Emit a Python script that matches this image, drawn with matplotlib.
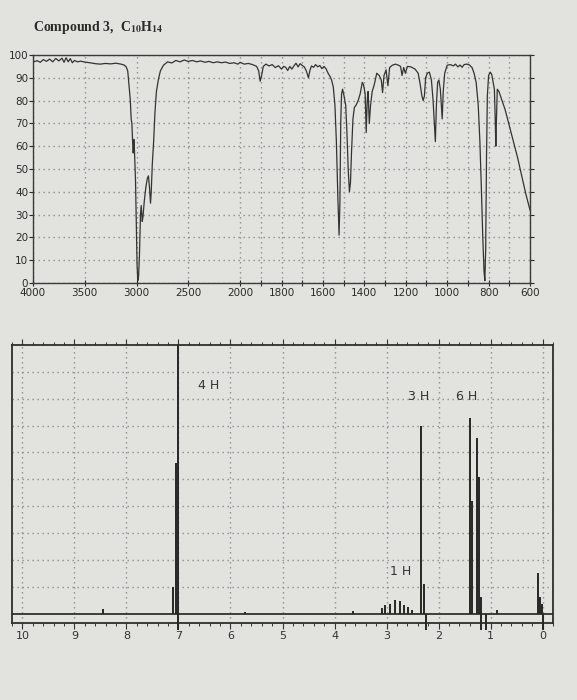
import numpy as np
import matplotlib
matplotlib.use("Agg")
import matplotlib.pyplot as plt
from matplotlib.ticker import FixedLocator, NullFormatter, FixedFormatter

# ---------------- IR data (wavenumber cm-1, %T) ----------------
ir_wavenumber = [4000, 3960, 3930, 3900, 3870, 3840, 3810, 3780, 3750, 3720, 3700, 3680,
                 3660, 3640, 3620, 3600, 3570, 3540, 3500, 3450, 3400, 3350, 3300, 3250,
                 3200, 3150, 3120, 3100, 3085, 3075, 3068, 3060, 3052, 3045, 3038, 3032,
                 3026, 3020, 3010, 3002, 2995, 2988, 2980, 2972, 2962, 2955, 2945, 2938,
                 2925, 2910, 2895, 2885, 2875, 2865, 2858, 2848, 2835, 2822, 2808, 2790,
                 2770, 2740, 2700, 2660, 2620, 2580, 2540, 2500, 2460, 2420, 2380, 2340,
                 2300, 2260, 2220, 2180, 2140, 2100, 2060, 2020, 2000, 1980, 1960, 1940,
                 1920, 1910, 1903, 1896, 1888, 1875, 1860, 1845, 1830, 1815, 1800, 1790,
                 1780, 1770, 1760, 1750, 1740, 1730, 1720, 1710, 1700, 1690, 1680, 1670,
                 1662, 1655, 1645, 1635, 1625, 1615, 1605, 1595, 1585, 1575, 1565, 1558,
                 1550, 1542, 1535, 1528, 1522, 1518, 1514, 1510, 1505, 1498, 1490, 1484,
                 1478, 1472, 1467, 1462, 1455, 1448, 1440, 1430, 1420, 1410, 1404, 1396,
                 1391, 1386, 1382, 1376, 1370, 1362, 1352, 1340, 1328, 1318, 1312, 1305,
                 1295, 1286, 1278, 1265, 1250, 1235, 1225, 1218, 1210, 1202, 1192, 1175,
                 1155, 1140, 1130, 1122, 1116, 1110, 1104, 1096, 1086, 1076, 1068, 1062,
                 1057, 1052, 1046, 1040, 1033, 1028, 1024, 1019, 1012, 1000, 985, 970,
                 960, 948, 938, 928, 918, 905, 892, 880, 870, 860, 850, 842, 835, 828,
                 822, 818, 814, 810, 806, 800, 792, 785, 778, 772, 768, 765, 762, 758,
                 750, 735, 720, 700, 680, 660, 640, 620, 600]
ir_transmittance = [97, 97.5, 96.8, 98, 97.2, 98.2, 97, 98.5, 97.4, 98.6, 96.8, 98.8,
                    97, 98.4, 96.6, 97.6, 97, 97.3, 96.9, 96.6, 96.2, 96.0, 96.3, 96.1,
                    96.4, 96.0, 95.6, 94.8, 93, 88, 85, 80, 72, 70, 62, 57,
                    63, 58, 45, 25, 8, 1, 3, 12, 30, 34, 27, 29,
                    36, 42, 46, 47, 42, 35, 40, 52, 62, 75, 84, 89,
                    93, 95.5, 97, 96.5, 97.6, 97, 97.8, 97.2, 97.6, 97, 97.4, 96.8,
                    97.2, 96.6, 97, 96.6, 96.9, 96.3, 96.6, 96, 96.8, 96, 96.3, 95.8,
                    95, 93, 88.5, 91, 95, 96, 95.2, 95.8, 94.5, 95.3, 93.8, 95,
                    94.6, 93.2, 95, 93.8, 95.2, 96.4, 94.8, 96.2, 95.4, 94.8, 93, 90,
                    93.5, 95.2, 94.6, 95.8, 94.8, 95.4, 94, 95, 94, 92, 90.5, 89,
                    86, 78, 62, 38, 21, 35, 70, 83, 85, 82, 78, 66,
                    50, 40, 44, 57, 72, 77, 78, 80, 83, 88, 87, 83,
                    66, 80, 84, 70, 78, 84, 87, 92, 91, 89, 83.5, 91,
                    93.5, 86.5, 94.5, 95.5, 96, 95.5, 95, 91, 94.5, 92, 95, 94.8,
                    93.8, 92, 87, 82, 80, 82, 90, 92, 92.5, 89, 80, 70,
                    62, 78, 88, 89, 85, 78, 72, 84, 92, 95.5, 95.8, 95.2,
                    96, 94.8, 95.6, 94.6, 95.8, 96, 95.6, 94.5, 92, 88, 78, 62, 42, 20,
                    5, 1, 15, 55, 82, 91, 92.5, 91.5, 88, 85, 72, 60, 72, 85,
                    84, 80, 76, 69, 62, 55, 47, 39, 32]
ir_xtick_labels = [4000, 3500, 3000, 2500, 2000, 1800, 1600, 1400, 1200, 1000, 800, 600]
ir_minor_ticks = [1900, 1700, 1500, 1300, 1100, 900, 700]
ir_yticks = [0, 10, 20, 30, 40, 50, 60, 70, 80, 90, 100]

# ---------------- 1H NMR data (ppm, relative height) ----------------
nmr_peak_ppm = [8.45, 7.10, 7.05, 7.00, 5.72, 3.65,
                3.08, 3.02, 2.94, 2.84, 2.74, 2.66, 2.58, 2.52,
                2.34, 2.28, 1.40, 1.35, 1.27, 1.22, 1.19, 0.88,
                0.08, 0.05, 0.02]
nmr_peak_height = [0.18, 1.0, 5.6, 10.0, 0.06, 0.1,
                   0.19, 0.31, 0.37, 0.52, 0.47, 0.31, 0.25, 0.15,
                   7.0, 1.1, 7.3, 4.2, 6.55, 5.1, 0.6, 0.12,
                   1.5, 0.6, 0.35]
nmr_drop_ppm = [7.00, 2.24, 1.19, 1.09, 0.00]
nmr_xticks = [10, 9, 8, 7, 6, 5, 4, 3, 2, 1, 0]
nmr_ygrid = [1, 2, 3, 4, 5, 6, 7, 8, 9]
nmr_labels = ["4 H", "3 H", "6 H", "1 H"]
nmr_label_ppm = [6.42, 2.38, 1.46, 2.73]
nmr_label_y = [8.5, 8.1, 8.1, 1.55]

BG = "#e2e2df"
INK = "#2a2a2a"
GRID = "#8c8c8c"

plt.rcParams["font.family"] = ["DejaVu Sans"]
plt.rcParams["mathtext.fontset"] = "stix"

fig = plt.figure(figsize=(5.77, 7.0), dpi=100, facecolor=BG)

fig.text(33 / 577, 1 - 28 / 700, r"Compound 3,  C$_{\mathbf{10}}$H$_{\mathbf{14}}$",
         family="Liberation Serif", weight="bold", fontsize=10, color=INK, va="center")

# ---------------- IR axes ----------------
def fwd(w):
    w = np.asarray(w, dtype=float)
    return np.where(w > 2000, 2000 + (w - 2000) / 2.0, w)

def inv(u):
    u = np.asarray(u, dtype=float)
    return np.where(u > 2000, 2000 + (u - 2000) * 2.0, u)

ax1 = fig.add_axes([33 / 577, 1 - 283 / 700, (530 - 33) / 577, (283 - 55) / 700])
ax1.set_facecolor("none")
ax1.set_xscale("function", functions=(fwd, inv))
ax1.set_xlim(4000, 600)
ax1.set_ylim(0, 100)
ax1.plot(ir_wavenumber, ir_transmittance, color="#333333", lw=0.9, solid_joinstyle="round")
ax1.xaxis.set_major_locator(FixedLocator(ir_xtick_labels))
ax1.xaxis.set_major_formatter(FixedFormatter([str(v) for v in ir_xtick_labels]))
ax1.xaxis.set_minor_locator(FixedLocator(ir_minor_ticks))
ax1.xaxis.set_minor_formatter(NullFormatter())
ax1.yaxis.set_major_locator(FixedLocator(ir_yticks))
ax1.grid(True, which="both", axis="x", color=GRID, lw=1.0, ls=(0, (1, 2.6)))
ax1.grid(True, which="major", axis="y", color=GRID, lw=1.0, ls=(0, (1, 2.6)))
ax1.tick_params(axis="x", which="major", direction="inout", length=5, width=0.8,
                labelsize=7.5, pad=1, colors=INK)
ax1.tick_params(axis="x", which="minor", direction="inout", length=4, width=0.8, colors=INK)
ax1.tick_params(axis="y", which="major", direction="out", length=3, width=0.8,
                labelsize=7.5, pad=0.5, colors=INK, right=True)
for s in ax1.spines.values():
    s.set_color("#3a3a3a")
    s.set_linewidth(1.0)

# ---------------- NMR axes ----------------
ax2 = fig.add_axes([12 / 577, 1 - 623 / 700, (553 - 12) / 577, (623 - 345) / 700])
ax2.set_facecolor("none")
ax2.set_xlim(10.2, -0.2)
ax2.set_ylim(-0.35, 10.0)
for g in nmr_ygrid:
    ax2.axhline(g, color=GRID, lw=1.0, ls=(0, (1, 2.6)), zorder=0)
for g in nmr_xticks:
    ax2.axvline(g, color=GRID, lw=1.0, ls=(0, (1, 2.6)), zorder=0)
ax2.axhline(0, color="#303030", lw=1.3, zorder=2)
ax2.vlines(nmr_peak_ppm, 0, nmr_peak_height, color="#262626", lw=1.4, zorder=3)
ax2.vlines(nmr_drop_ppm, -0.6, 0, color="#262626", lw=1.4, zorder=3, clip_on=False)
for t, xp, yp in zip(nmr_labels, nmr_label_ppm, nmr_label_y):
    ax2.text(xp, yp, t, ha="center", va="center", fontsize=9, color="#333333")
ax2.xaxis.set_major_locator(FixedLocator(nmr_xticks))
ax2.xaxis.set_minor_locator(FixedLocator(np.arange(-0.2, 10.21, 0.2)))
ax2.set_yticks([])
ax2.tick_params(axis="x", which="major", direction="out", length=4, width=0.8,
                labelsize=8, pad=2, colors="#333333", top=True)
ax2.tick_params(axis="x", which="minor", direction="out", length=2.5, width=0.7,
                colors="#333333", top=True)
for s in ax2.spines.values():
    s.set_color("#2e2e2e")
    s.set_linewidth(1.3)

fig.savefig("out.png", dpi=100, facecolor=BG)
